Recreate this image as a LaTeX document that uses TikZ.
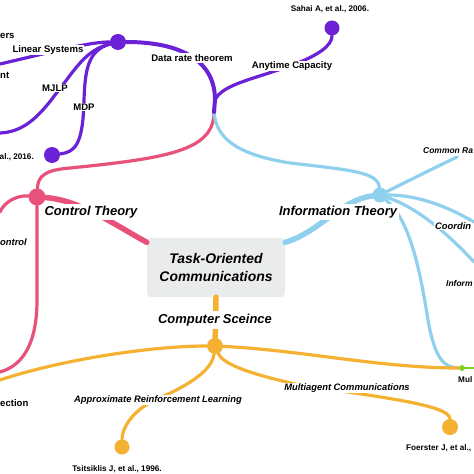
\documentclass[tikz,border=0pt]{standalone}
\usepackage{fontspec}
\setmainfont{Liberation Sans}
\definecolor{cpurple}{HTML}{6B21D6}
\definecolor{cpink}{HTML}{E8517A}
\definecolor{cblue}{HTML}{8FD0EE}
\definecolor{cyellow}{HTML}{F5B131}
\definecolor{cgreen}{HTML}{7ED321}
\definecolor{cbox}{HTML}{EAEBEB}
\tikzset{
  dotnode/.style={circle,inner sep=0pt,minimum size=#1},
  catlab/.style={font=\bfseries\itshape\fontsize{13}{15}\selectfont,fill=white,inner sep=1.5pt},
  sublab/.style={font=\bfseries\fontsize{9.6}{11}\selectfont,fill=white,inner sep=1pt},
  isublab/.style={font=\bfseries\itshape\fontsize{9.4}{11}\selectfont,fill=white,inner sep=1pt},
  citelab/.style={font=\bfseries\fontsize{8.2}{9}\selectfont,inner sep=1pt},
  mainline/.style={line width=5.5bp,line cap=round},
  subline/.style={line width=3.2bp,line cap=round},
}
\begin{document}
\begin{tikzpicture}[x=1bp,y=-1bp]
\useasboundingbox (0,0) rectangle (474,474);
% central box
\node[fill=cbox,rounded corners=4bp,minimum width=138bp,minimum height=59bp,align=center,
      font=\bfseries\itshape\fontsize{14}{18}\selectfont] (T) at (216,267.5) {Task-Oriented\\Communications};
% dots
\coordinate (J) at (214,112);
\coordinate (J2) at (215,100);
\node[dotnode=16bp,fill=cpurple] (P1) at (118,42) {};
\node[dotnode=15bp,fill=cpurple] (P2) at (332,28) {};
\node[dotnode=16bp,fill=cpurple] (P3) at (52,155) {};
\node[dotnode=17bp,fill=cpink] (C) at (37,197) {};
\node[dotnode=15bp,fill=cblue] (I) at (380,195) {};
\node[dotnode=16bp,fill=cyellow] (S) at (215,346) {};
\node[dotnode=15bp,fill=cyellow] (Y1) at (122,447) {};
\node[dotnode=16bp,fill=cyellow] (Y2) at (450,427) {};
\node[dotnode=6bp,fill=cgreen] (G) at (462,368) {};
% free ends
\coordinate (eLS) at (0,64);
\coordinate (eMJ) at (0,133);
\coordinate (ePL) at (0,212);
\coordinate (ePD) at (0,372);
\coordinate (eYL) at (0,380);
\coordinate (eCR) at (457,157);
\coordinate (eB1) at (474,222);
\coordinate (eB2) at (474,262);
\coordinate (eG) at (474,368);
% main branches
\draw[mainline,cpink] (T.160) .. controls (115,225) and (80,200) .. (C);
\draw[mainline,cblue] (T.20) .. controls (320,232) and (340,200) .. (I);
\draw[mainline,cyellow] (T.south) -- (S);
% control theory
\draw[subline,cpink] (C) .. controls (38,176) and (45,170) .. (70,168) .. controls (170,158) and (214,150) .. (J);
\draw[subline,cpink] (C) .. controls (20,195) and (5,200) .. (ePL);
\draw[subline,cpink] (C) -- (37,300) .. controls (37,340) and (25,365) .. (ePD);
% information theory
\draw[subline,cblue] (J) .. controls (216,140) and (240,155) .. (290,163) .. controls (350,170) and (378,172) .. (I);
\draw[subline,cblue] (I) .. controls (400,185) and (430,170) .. (eCR);
\draw[subline,cblue] (I) .. controls (420,195) and (450,208) .. (eB1);
\draw[subline,cblue] (I) .. controls (410,205) and (440,225) .. (eB2);
\draw[subline,cblue] (I) .. controls (410,220) and (420,270) .. (428,320) .. controls (435,360) and (445,368) .. (G);
\draw[line width=2.5bp,cgreen] (G) -- (eG);
% purple
\draw[line width=4bp,cpurple,line cap=round] (J) -- (J2) .. controls (215,60) and (180,42) .. (P1);
\draw[subline,cpurple] (J2) .. controls (222,85) and (250,80) .. (290,66) .. controls (320,55) and (332,45) .. (P2);
\draw[subline,cpurple] (P1) .. controls (90,42) and (60,50) .. (eLS);
\draw[subline,cpurple] (P1) .. controls (85,50) and (75,70) .. (55,95) .. controls (35,122) and (20,132) .. (eMJ);
\draw[subline,cpurple] (P1) .. controls (88,50) and (85,70) .. (84,100) .. controls (83,145) and (75,152) .. (P3);
% computer science
\draw[subline,cyellow] (S) .. controls (150,346) and (60,360) .. (eYL);
\draw[subline,cyellow] (S) .. controls (300,350) and (380,368) .. (G);
\draw[subline,cyellow] (S) .. controls (212,370) and (190,385) .. (155,400) .. controls (130,412) and (122,430) .. (Y1);
\draw[subline,cyellow] (S) .. controls (222,362) and (240,372) .. (300,385) .. controls (380,397) and (450,405) .. (Y2);
% labels
\node[catlab] (lC) at (91,212) {Control Theory};
\node[catlab] (lI) at (338,212) {Information Theory};
\node[catlab,inner sep=3pt] (lS) at (215,320) {Computer Sceince};
\node[sublab] (lLS) at (48,50) {Linear Systems};
\node[sublab] (lMJ) at (55,88) {MJLP};
\node[sublab] (lMD) at (84,107) {MDP};
\node[sublab] (lDR) at (192,58) {Data rate theorem};
\node[sublab] (lAC) at (292,66) {Anytime Capacity};
\node[sublab,anchor=west] (lER) at (-1,36) {ers};
\node[sublab,anchor=west] (lNT) at (-1,75) {nt};
\node[citelab,anchor=east] (lAL) at (35,157) {al., 2016.};
\node[citelab] (lSA) at (330,9) {Sahai A, et al., 2006.};
\node[isublab,anchor=west] (lON) at (-1,242) {ontrol};
\node[sublab,anchor=west] (lEC) at (-1,403) {ection};
\node[isublab,font=\bfseries\itshape\fontsize{8.5}{10}\selectfont,anchor=west] (lCR) at (422,151) {Common Ra};
\node[isublab,anchor=west] (lCO) at (434,226) {Coordin};
\node[isublab,font=\bfseries\itshape\fontsize{8.5}{10}\selectfont,anchor=west] (lIN) at (445,283) {Inform};
\node[citelab,anchor=west] (lMU) at (457,380) {Mul};
\node[isublab] (lAR) at (158,400) {Approximate Reinforcement Learning};
\node[isublab] (lMA) at (347,388) {Multiagent Communications};
\node[citelab] (lTS) at (117,469) {Tsitsiklis J, et al., 1996.};
\node[citelab,anchor=west] (lFO) at (405,448) {Foerster J, et al.,};
\end{tikzpicture}
\end{document}
